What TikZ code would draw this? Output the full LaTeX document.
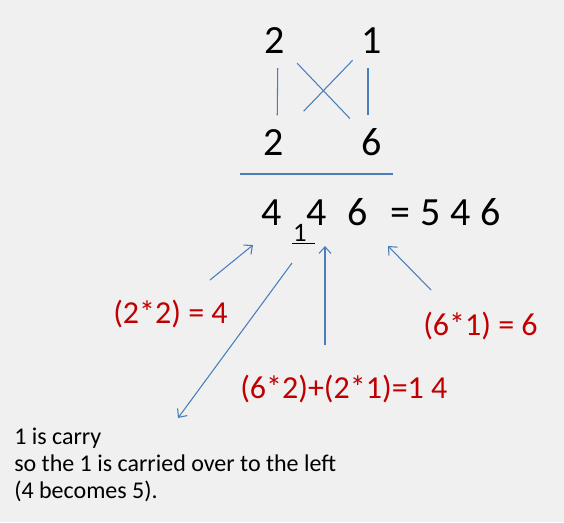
\documentclass[tikz,border=0pt]{standalone}
\usepackage{fontspec}
\setmainfont{Carlito}
\usetikzlibrary{arrows.meta}

\definecolor{linkblue}{RGB}{74,126,187}
\definecolor{workred}{RGB}{192,0,0}
\definecolor{paper}{RGB}{240,240,240}

\begin{document}
\begin{tikzpicture}[x=0.75pt,y=-0.75pt,
	digit/.style={anchor=base, inner sep=0pt, font=\fontsize{30}{36}\selectfont},
	work/.style={anchor=base west, inner sep=0pt, text=workred, font=\fontsize{24}{29}\selectfont},
	link/.style={draw=linkblue, line width=0.8pt},
	arr/.style={link, -{Straight Barb[length=5pt,width=9pt]}}]

	% background
	\useasboundingbox (0,0) rectangle (564,522);
	\fill[paper] (0,0) rectangle (564,522);

	% the two numbers
	\node[digit] (t2) at (275,53) {2};
	\node[digit] (t1) at (372,53) {1};
	\node[digit] (b2) at (274,155) {2};
	\node[digit] (b6) at (372,155) {6};

	% vertical and crosswise
	\draw[link, shorten <=21pt, shorten >=20pt] ([xshift=2.25pt]t2.center) -- ([xshift=2.25pt]b2.center);
	\draw[link, shorten <=21pt, shorten >=20pt] ([xshift=-3pt]t1.center) -- ([xshift=-3pt]b6.center);
	\draw[link, shorten <=24pt, shorten >=24pt] (t2.center) -- (b6.center);
	\draw[link, shorten <=21pt, shorten >=32pt] (t1.center) -- (b2.center);

	% rule
	\draw[link] (240,174) -- (393,174);

	% result row
	\node[digit] (r4a) at (272,225) {4};
	\node[anchor=base west, inner xsep=0pt, inner ysep=1.5pt,
		font=\fontsize{20}{24}\selectfont] (carry) at (292,241) {\makebox[17pt][l]{\hspace{0.6pt}1}};
	\draw[line width=0.9pt] (carry.south west) -- (carry.south east);
	\node[digit] (r4b) at (317,225) {4};
	\node[digit] (r6) at (358,225) {6};
	\node[digit] (eq) at (400,225) {=};
	\foreach \d/\x in {5/431,4/461,6/491}
		{
			\node[digit] (s\d) at (\x,225) {\d};
		}

	% partial products
	\node[work] (lbl22) at (113,323) {(2*2) = 4};
	\node[work] (lbl61) at (423,335) {(6*1) = 6};
	\node[work] (lbl14) at (240,398) {(6*2)+(2*1)=1 4};

	% note (base is the last line)
	\node[anchor=base west, inner sep=0pt, align=left,
		font=\fontsize{18}{20.25}\selectfont] (note) at (14,498)
		{1 is carry\\so the 1 is carried over to the left\\(4 becomes 5).};

	% arrows
	\coordinate (p22) at (210,280);
	\coordinate (h22) at (253,245);
	\coordinate (p14) at (325,345);
	\coordinate (h14) at (325,246);
	\coordinate (p61) at (431,290);
	\coordinate (h61) at (388,246);
	\coordinate (pc) at (292,263);
	\coordinate (hc) at (178,418);
	\draw[arr] (p22) -- (h22);
	\draw[arr] (p14) -- (h14);
	\draw[arr] (p61) -- (h61);
	\draw[arr] (pc) -- (hc);
\end{tikzpicture}
\end{document}
